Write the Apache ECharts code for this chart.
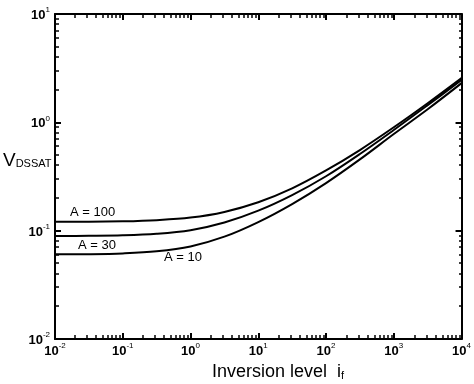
<!DOCTYPE html>
<html><head><meta charset="utf-8">
<script src="https://cdn.jsdelivr.net/npm/echarts@6/dist/echarts.min.js"></script>
<style>html,body{margin:0;padding:0;background:#fff}#c{width:474px;height:384px}</style>
</head><body><div id="c"></div>
<script>
const inversionLevel = [0.01, 0.0316, 0.1, 0.316, 1, 3.16, 10, 31.6, 100, 316, 1000, 3162, 10000];
const vA100 = [0.121, 0.121, 0.122, 0.125, 0.132, 0.149, 0.183, 0.246, 0.360, 0.555, 0.90, 1.50, 2.56];
const vA30  = [0.0893, 0.0896, 0.0905, 0.0935, 0.101, 0.119, 0.153, 0.213, 0.318, 0.51, 0.85, 1.44, 2.46];
const vA10  = [0.0605, 0.0607, 0.0617, 0.0645, 0.0715, 0.088, 0.120, 0.176, 0.275, 0.455, 0.78, 1.32, 2.30];
const seriesNames = ['A = 100', 'A = 30', 'A = 10'];
const xTicks = [0.01, 0.1, 1, 10, 100, 1000, 10000];
const yTicks = [0.01, 0.1, 1, 10];

const FONT = 'Liberation Sans, Arial, sans-serif';
function pow10Label(v) {
  const e = Math.round(Math.log10(v));
  return '{b|10}{s|' + e + '}';
}
const rich = {
  b: {fontSize: 13, fontWeight: 'bold', fontFamily: FONT, color: '#000', verticalAlign: 'bottom', lineHeight: 16},
  s: {fontSize: 8, fontFamily: FONT, color: '#000', verticalAlign: 'top', padding: [0,0,9,0], lineHeight: 16}
};
const chart = echarts.init(document.getElementById('c'), null, {renderer: 'canvas'});
const mk = (vals) => inversionLevel.map((x, i) => [x, vals[i]]);
const lineStyle = {color: '#000', width: 2};
const axisCommon = {
  type: 'log', logBase: 10,
  axisLine: {show: true, lineStyle: {color: '#000', width: 2}},
  axisTick: {show: true, inside: true, length: 6, lineStyle: {color: '#000', width: 2}},
  splitLine: {show: false}
};
const GL = 55, GT = 14, GR = 11, GB = 45;
const W = 474, H = 384;
const x0 = GL, x1 = W - GR, y0 = GT, y1 = H - GB;

function minorVals(lo, hi) {
  const out = [];
  for (let e = Math.round(Math.log10(lo)); e < Math.round(Math.log10(hi)); e++)
    for (let m = 2; m <= 9; m++) out.push(m * Math.pow(10, e));
  return out;
}
function logPos(v, lo, hi, p0, p1) {
  return p0 + (Math.log10(v) - Math.log10(lo)) / (Math.log10(hi) - Math.log10(lo)) * (p1 - p0);
}
const g = [];
minorVals(xTicks[0], xTicks[xTicks.length-1]).forEach(v => {
  const px = Math.round(logPos(v, xTicks[0], xTicks[xTicks.length-1], x0, x1));
  g.push({type: 'rect', z: 100, shape: {x: px - 0.75, y: y1 - 4, width: 1.5, height: 4}, style: {fill: '#000'}});
  g.push({type: 'rect', z: 100, shape: {x: px - 0.75, y: y0, width: 1.5, height: 4}, style: {fill: '#000'}});
});
minorVals(yTicks[0], yTicks[yTicks.length-1]).forEach(v => {
  const py = Math.round(logPos(v, yTicks[0], yTicks[yTicks.length-1], y1, y0));
  g.push({type: 'rect', z: 100, shape: {x: x0, y: py - 0.75, width: 4, height: 1.5}, style: {fill: '#000'}});
  g.push({type: 'rect', z: 100, shape: {x: x1 - 4, y: py - 0.75, width: 4, height: 1.5}, style: {fill: '#000'}});
});
g.push({type: 'text', left: 70, top: 206, style: {text: seriesNames[0], font: '13px ' + FONT, fill: '#000'}});
g.push({type: 'text', left: 78, top: 239, style: {text: seriesNames[1], font: '13px ' + FONT, fill: '#000'}});
g.push({type: 'text', left: 164, top: 251, style: {text: seriesNames[2], font: '13px ' + FONT, fill: '#000'}});
g.push({type: 'text', left: 212, top: 363, style: {
  rich: {m: {fontSize: 18, fontFamily: FONT, fill: '#000'}, sub: {fontSize: 11, fontFamily: FONT, fill: '#000', padding: [8,0,0,0]}},
  text: '{m|Inversion level  i}{sub|f}'}});
g.push({type: 'text', left: 3, top: 151, style: {
  rich: {m: {fontSize: 19, fontFamily: FONT, fill: '#000'}, sub: {fontSize: 11, fontFamily: FONT, fill: '#000', padding: [7,0,0,0]}},
  text: '{m|V}{sub|DSSAT}'}});

chart.setOption({
  animation: false,
  backgroundColor: '#fff',
  grid: {left: GL, top: GT, right: GR, bottom: GB, containLabel: false},
  xAxis: [
    Object.assign({}, axisCommon, {min: xTicks[0], max: xTicks[xTicks.length-1], position: 'bottom',
      axisLabel: {formatter: pow10Label, rich: rich, margin: 3}}),
    Object.assign({}, axisCommon, {min: xTicks[0], max: xTicks[xTicks.length-1], position: 'top', axisLabel: {show: false}})
  ],
  yAxis: [
    Object.assign({}, axisCommon, {min: yTicks[0], max: yTicks[yTicks.length-1], position: 'left',
      axisLabel: {formatter: pow10Label, rich: rich, margin: 5}}),
    Object.assign({}, axisCommon, {min: yTicks[0], max: yTicks[yTicks.length-1], position: 'right', axisLabel: {show: false}})
  ],
  series: [
    {name: seriesNames[0], type: 'line', data: mk(vA100), smooth: 0.35, showSymbol: false, lineStyle: lineStyle},
    {name: seriesNames[1], type: 'line', data: mk(vA30), smooth: 0.35, showSymbol: false, lineStyle: lineStyle},
    {name: seriesNames[2], type: 'line', data: mk(vA10), smooth: 0.35, showSymbol: false, lineStyle: lineStyle}
  ],
  graphic: {elements: g}
});
</script></body></html>
